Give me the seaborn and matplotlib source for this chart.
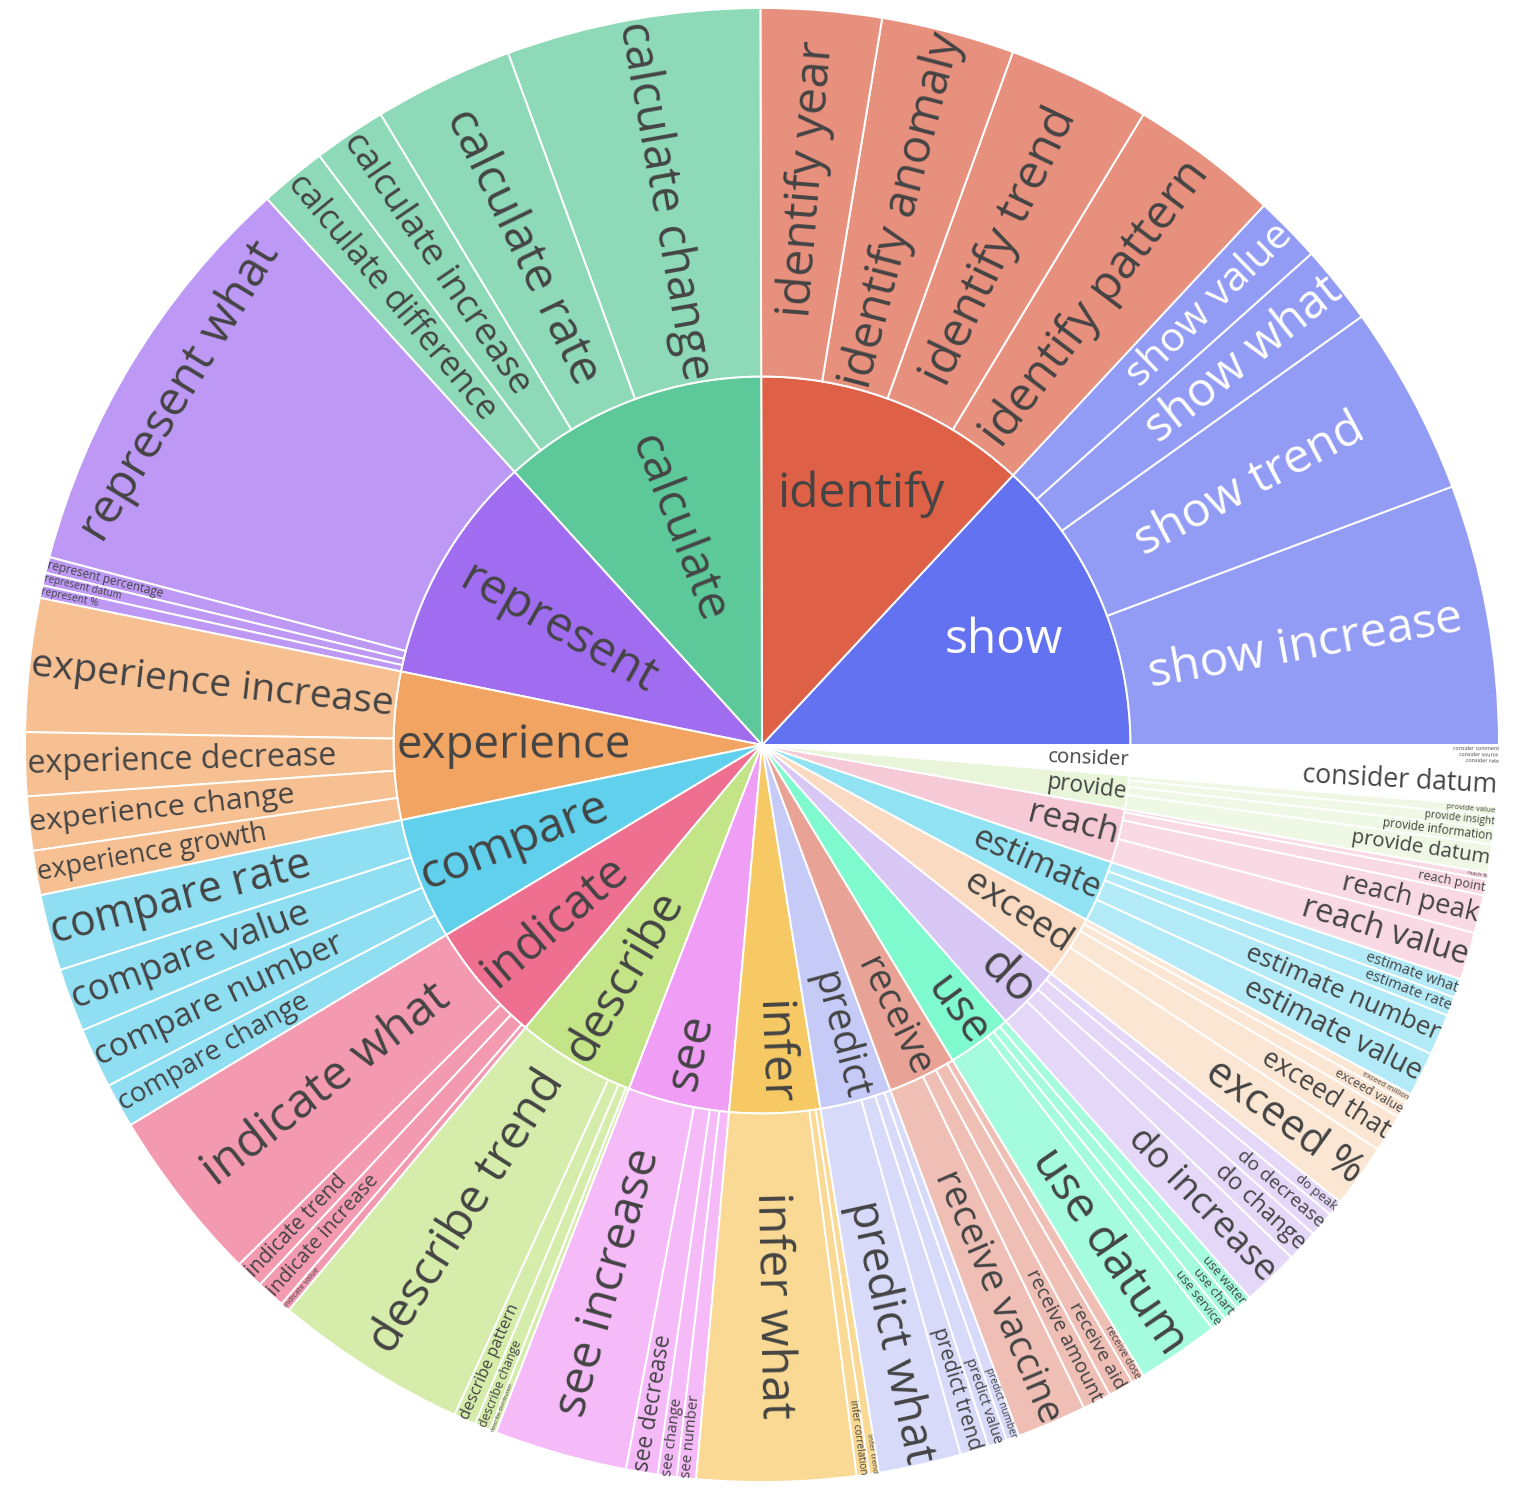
import numpy as np
import matplotlib
matplotlib.use("Agg")
import matplotlib.pyplot as plt
import seaborn as sns
from matplotlib.font_manager import FontProperties

# verbs (inner ring) in drawing order, counter-clockwise from 3 o'clock
verbs = ["show", "identify", "calculate", "represent", "experience", "compare",
         "indicate", "describe", "see", "infer", "predict", "receive", "use",
         "do", "exceed", "estimate", "reach", "provide", "consider"]

verb_colors = ["#6372F0", "#DE6047", "#5DC99A", "#A06DF0", "#F2A563", "#61D0EC",
               "#EE6F90", "#C3E487", "#F09DF5", "#F6C965", "#C6CAF6", "#E8A396",
               "#7FF9CE", "#D8C6F4", "#FADBC1", "#91E3F4", "#F6C9D7", "#E8F5D8",
               "#FFFFFF"]

# objects (outer ring) for each verb
objects = [
    ["increase", "trend", "what", "value"],
    ["pattern", "trend", "anomaly", "year"],
    ["change", "rate", "increase", "difference"],
    ["what", "percentage", "datum", "%"],
    ["increase", "decrease", "change", "growth"],
    ["rate", "value", "number", "change"],
    ["what", "trend", "increase", "value"],
    ["trend", "pattern", "change", "distribution"],
    ["increase", "decrease", "change", "number"],
    ["what", "correlation", "trend"],
    ["what", "trend", "value", "number"],
    ["vaccine", "amount", "aid", "dose"],
    ["datum", "service", "chart", "water"],
    ["increase", "change", "decrease", "peak"],
    ["%", "that", "value", "million"],
    ["value", "number", "rate", "what"],
    ["value", "peak", "point", "%"],
    ["datum", "information", "insight", "value"],
    ["datum", "rate", "source", "comment"],
]

counts = [
    [82, 60, 25, 21],
    [47, 45, 42, 38],
    [80, 44, 23, 21],
    [132, 5, 4, 4],
    [42, 20, 17, 14],
    [24, 20, 19, 14],
    [55, 9, 9, 3],
    [61, 7, 5, 2],
    [42, 10, 6, 6],
    [50, 4, 3],
    [26, 9, 6, 4],
    [22, 9, 8, 4],
    [26, 5, 5, 5],
    [18, 10, 8, 5],
    [20, 12, 5, 3],
    [14, 13, 6, 6],
    [15, 12, 5, 2],
    [9, 5, 4, 3],
    [13, 2, 2, 2],
]

W, H = 1520, 1500
CX, CY = 762, 745
R_OUT = 737
R_IN = R_OUT / 2
BASE_PX = 48
BOX_H = 1.14          # text box height / font size
PAD = 3
LEAF_OPACITY = 0.7


def blend(hex_color, alpha):
    rgb = np.array(matplotlib.colors.to_rgb(hex_color))
    return tuple(alpha * rgb + (1 - alpha))


def text_color(hex_color):
    r, g, b = [255 * c for c in matplotlib.colors.to_rgb(hex_color)]
    bright = (r * 299 + g * 587 + b * 114) / 1000
    return "white" if bright < 128 else "#444444"


def max_half_size(a, half, r, ring):
    q = a + 1 / (2 * np.tan(half))
    return r * min(1 / (np.sqrt(q * q + 0.5) + q),
                   ring / (np.sqrt(a * a + ring / 2) + a))


def place_text(label, wedge, renderer, prop):
    r1 = wedge.r
    r0 = r1 - wedge.width if wedge.width is not None else 0
    t0, t1 = wedge.theta1, wedge.theta2
    half = np.radians(t1 - t0) / 2
    mid = (t0 + t1) / 2
    ring = 1 - r0 / r1
    w, _, _ = renderer.get_text_width_height_descent(label, prop, ismath=False)
    h = BOX_H * BASE_PX

    cands = []
    # horizontal text inside the inscribed circle
    rins = max(0, min(1 / (1 + 1 / np.sin(half)), ring / 2))
    sc = rins * r1 * 2 / np.hypot(w, h)
    if sc >= 1:
        best = (sc, 1 - rins, 0.0)
    else:
        cands.append((sc, 1 - rins, 0.0))
        r = max(0, r1 - 2 * PAD)
        # radial
        a = w / h
        s = max_half_size(a, half, r, ring)
        cands.append((s * 2 / h, np.cos(s / r) - a * s / r, ((mid + 90) % 180) - 90))
        # tangential
        a = h / w
        s = max_half_size(a, half, r, ring)
        cands.append((s * 2 / w, np.cos(s / r) - a * s / r, (mid % 180) - 90))
        best = max(cands, key=lambda c: c[0])
    scale, rc, rot = best
    px = BASE_PX * min(1, scale)
    rad = r1 * rc
    x = rad * np.cos(np.radians(mid))
    y = rad * np.sin(np.radians(mid))
    return x, y, rot, px


sns.set_style("white")
plt.rcParams["font.family"] = ["Open Sans", "DejaVu Sans"]

parent_totals = [sum(c) for c in counts]
leaf_labels = [f"{v} {o}" for v, objs in zip(verbs, objects) for o in objs]
leaf_values = [n for c in counts for n in c]
leaf_colors = [blend(col, LEAF_OPACITY) for col, objs in zip(verb_colors, objects) for _ in objs]
leaf_text = [text_color(col) for col, objs in zip(verb_colors, objects) for _ in objs]

fig = plt.figure(figsize=(W / 100, H / 100), dpi=100)
ax = fig.add_axes([0, 0, 1, 1])

edge = dict(edgecolor="white", linewidth=1.4)
inner, _ = ax.pie(parent_totals, radius=R_IN, startangle=0, counterclock=True,
                  colors=verb_colors, wedgeprops=edge)
outer, _ = ax.pie(leaf_values, radius=R_OUT, startangle=0, counterclock=True,
                  colors=leaf_colors, wedgeprops=dict(width=R_OUT - R_IN, **edge))
ax.set_xlim(-CX, W - CX)
ax.set_ylim(-(H - CY), CY)
ax.set_axis_off()

renderer = fig.canvas.get_renderer()
prop = FontProperties(family="Open Sans", size=BASE_PX * 72 / 100)

for lab, wdg, tc in zip(verbs, inner, [text_color(c) for c in verb_colors]):
    x, y, rot, px = place_text(lab, wdg, renderer, prop)
    ax.text(x, y, lab, rotation=rot, rotation_mode="anchor", ha="center",
            va="center", fontsize=px * 0.72, color=tc, family="Open Sans")

for lab, wdg, tc in zip(leaf_labels, outer, leaf_text):
    x, y, rot, px = place_text(lab, wdg, renderer, prop)
    ax.text(x, y, lab, rotation=rot, rotation_mode="anchor", ha="center",
            va="center", fontsize=px * 0.72, color=tc, family="Open Sans")

fig.savefig("out.png", dpi=100, facecolor="white")
